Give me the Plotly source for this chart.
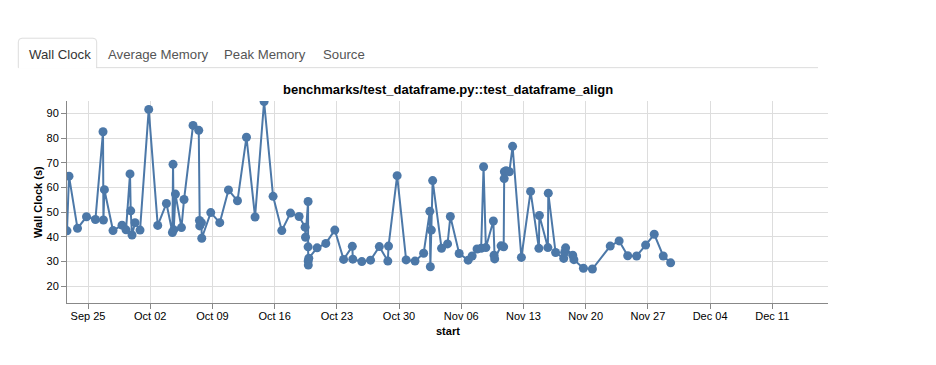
import plotly.graph_objects as go

# ---- data ----
start = [
    "2022-09-22 15:16", "2022-09-22 20:40", "2022-09-23 19:38", "2022-09-24 19:57",
    "2022-09-25 20:00", "2022-09-26 16:32", "2022-09-26 17:37", "2022-09-26 20:18",
    "2022-09-27 19:32", "2022-09-28 19:52", "2022-09-29 06:40", "2022-09-29 17:28",
    "2022-09-29 19:22", "2022-09-29 22:52", "2022-09-30 06:59", "2022-09-30 20:30",
    "2022-10-01 20:00", "2022-10-02 20:19", "2022-10-03 19:49", "2022-10-04 12:01",
    "2022-10-04 13:39", "2022-10-04 15:33", "2022-10-04 20:08", "2022-10-05 12:22",
    "2022-10-05 19:22", "2022-10-06 19:41", "2022-10-07 11:05", "2022-10-07 12:59",
    "2022-10-07 13:48", "2022-10-07 18:23", "2022-10-07 19:12", "2022-10-08 19:31",
    "2022-10-09 19:49", "2022-10-10 19:20", "2022-10-11 19:39", "2022-10-12 19:58",
    "2022-10-13 19:12", "2022-10-14 19:31", "2022-10-15 19:49", "2022-10-16 19:20",
    "2022-10-17 18:50", "2022-10-18 18:04", "2022-10-19 10:18", "2022-10-19 11:23",
    "2022-10-19 18:23", "2022-10-19 18:25", "2022-10-19 18:40", "2022-10-19 18:56",
    "2022-10-19 20:17", "2022-10-20 18:43", "2022-10-21 18:13", "2022-10-22 18:32",
    "2022-10-23 18:19", "2022-10-24 17:48", "2022-10-24 19:10", "2022-10-25 19:29",
    "2022-10-26 18:59", "2022-10-27 18:46", "2022-10-28 17:44", "2022-10-28 19:38",
    "2022-10-29 18:52", "2022-10-30 19:10", "2022-10-31 19:12", "2022-11-01 18:27",
    "2022-11-02 11:12", "2022-11-02 12:33", "2022-11-02 15:16", "2022-11-02 18:46",
    "2022-11-03 18:49", "2022-11-04 11:01", "2022-11-04 18:35", "2022-11-05 18:22",
    "2022-11-06 18:40", "2022-11-07 05:28", "2022-11-07 18:43", "2022-11-08 05:48",
    "2022-11-08 12:17", "2022-11-08 18:30", "2022-11-09 14:45", "2022-11-09 16:39",
    "2022-11-09 18:17", "2022-11-10 11:34", "2022-11-10 18:36", "2022-11-10 19:58",
    "2022-11-10 20:30", "2022-11-11 01:05", "2022-11-11 10:00", "2022-11-11 18:39",
    "2022-11-12 18:24", "2022-11-13 19:16", "2022-11-14 17:41", "2022-11-14 19:02",
    "2022-11-15 18:00", "2022-11-15 19:05", "2022-11-16 14:48", "2022-11-17 12:42",
    "2022-11-17 15:08", "2022-11-17 17:50", "2022-11-18 13:02", "2022-11-18 16:16",
    "2022-11-19 17:56", "2022-11-20 18:14", "2022-11-22 18:20", "2022-11-23 18:23",
    "2022-11-24 17:37", "2022-11-25 17:40", "2022-11-26 17:58", "2022-11-27 17:12",
    "2022-11-28 17:31", "2022-11-29 13:30",
]
wall_clock = [
    42.4, 64.6, 43.4, 48.1,
    47.0, 82.6, 46.8, 59.1,
    42.5, 44.7, 42.8, 65.5,
    50.5, 40.7, 45.7, 42.7,
    91.7, 44.6, 53.5, 41.7,
    69.4, 42.8, 57.3, 43.7,
    55.1, 85.2, 83.2, 46.6,
    44.4, 45.7, 39.4, 49.8,
    45.7, 59.0, 54.6, 80.4,
    48.0, 94.9, 56.4, 42.5,
    49.6, 48.2, 43.9, 39.8,
    54.3, 35.9, 30.2, 28.5,
    31.3, 35.5, 37.3, 42.7,
    30.8, 36.1, 30.9, 29.9,
    30.5, 36.0, 30.1, 36.2,
    64.8, 30.6, 30.1, 33.3,
    50.3, 27.8, 42.7, 62.8,
    35.3, 37.1, 48.2, 33.2,
    30.5, 32.2, 35.0, 35.3,
    68.4, 35.6, 46.4, 32.5,
    31.0, 36.3, 35.9, 63.6,
    66.4, 66.8, 66.4, 76.7,
    31.6, 58.4, 35.3, 48.6,
    35.6, 57.7, 33.6, 31.2,
    33.6, 35.5, 32.5, 30.7,
    27.2, 26.9, 36.2, 38.3,
    32.3, 32.2, 36.6, 41.0,
    32.2, 29.4,
]
x_range = ["2022-09-22 15:16", "2022-12-17 06:30"]
y_range = [13.1, 95.1]
y_ticks = [20, 30, 40, 50, 60, 70, 80, 90]
tabs = ["Wall Clock", "Average Memory", "Peak Memory", "Source"]
title_text = "benchmarks/test_dataframe.py::test_dataframe_align"
x_title = "start"
y_title = "Wall Clock (s)"

# ---- layout geometry (page pixels; the figure sits at the 8px body margin) ----
W, H = 936, 365
OFF = 8
FW, FH = W - 2 * OFF, H - 2 * OFF
PL, PR, PT, PB = 67, 828, 101, 302.7


def fx(px):
    return (px - PL) / (PR - PL)


def fy(py):
    return (PB - py) / (PB - PT)


FONT = "Liberation Sans, Arial, Helvetica, sans-serif"
BLUE = "#4c78a8"

fig = go.Figure()
fig.add_trace(go.Scatter(
    x=start, y=wall_clock, mode="lines+markers",
    line=dict(color=BLUE, width=2),
    marker=dict(color=BLUE, size=9, line=dict(width=0)),
    showlegend=False, cliponaxis=True,
))

shapes = []
annotations = []

# tabs
shapes.append(dict(type="line", xref="paper", yref="paper",
                   x0=fx(18.3), x1=fx(818), y0=fy(67.7), y1=fy(67.7),
                   line=dict(color="#dddddd", width=1), layer="above"))
shapes.append(dict(type="path", xref="paper", yref="paper",
                   path=(f"M {fx(18.3)} {fy(67.7)} L {fx(18.3)} {fy(42)} "
                         f"Q {fx(18.3)} {fy(38.3)} {fx(22)} {fy(38.3)} "
                         f"L {fx(93)} {fy(38.3)} Q {fx(96.7)} {fy(38.3)} {fx(96.7)} {fy(42)} "
                         f"L {fx(96.7)} {fy(67.7)}"),
                   line=dict(color="#dddddd", width=1), layer="above"))
shapes.append(dict(type="line", xref="paper", yref="paper",
                   x0=fx(19), x1=fx(96), y0=fy(67.7), y1=fy(67.7),
                   line=dict(color="white", width=2), layer="above"))

tab_x = [27, 106, 222, 321]
tab_colors = ["#333333", "#555555", "#555555", "#555555"]
for t, px, c in zip(tabs, tab_x, tab_colors):
    annotations.append(dict(text=t, xref="paper", yref="paper", x=fx(px), y=fy(54.5),
                            xanchor="left", yanchor="middle", showarrow=False,
                            font=dict(family=FONT, size=13.2, color=c)))

annotations.append(dict(text=f"<b>{title_text}</b>", xref="paper", yref="paper",
                        x=0.5, y=fy(90), xanchor="center", yanchor="middle",
                        showarrow=False, font=dict(family=FONT, size=13, color="#000")))
annotations.append(dict(text=f"<b>{x_title}</b>", xref="paper", yref="paper",
                        x=0.5, y=fy(331), xanchor="center", yanchor="middle",
                        showarrow=False, font=dict(family=FONT, size=11, color="#000")))
annotations.append(dict(text=f"<b>{y_title}</b>", xref="paper", yref="paper",
                        x=fx(38), y=0.5, xanchor="center", yanchor="middle", textangle=-90,
                        showarrow=False, font=dict(family=FONT, size=11, color="#000")))

fig.update_layout(
    width=FW, height=FH,
    margin=dict(l=PL - OFF, r=FW - (PR - OFF), t=PT - OFF, b=FH - (PB - OFF), pad=0),
    paper_bgcolor="white", plot_bgcolor="white",
    font=dict(family=FONT, size=11, color="#000"),
    shapes=shapes, annotations=annotations,
    xaxis=dict(
        type="date", range=x_range,
        tick0="2022-09-25", dtick=7 * 24 * 3600 * 1000, tickformat="%b %d",
        showgrid=True, gridcolor="#dddddd", gridwidth=1,
        showline=True, linecolor="#888888", linewidth=1,
        ticks="outside", ticklen=5, tickcolor="#888888",
        tickfont=dict(family=FONT, size=11, color="#000"),
        ticklabelstandoff=-2,
        zeroline=False, fixedrange=True,
    ),
    yaxis=dict(
        range=y_range, tickvals=y_ticks,
        showgrid=True, gridcolor="#dddddd", gridwidth=1,
        showline=True, linecolor="#888888", linewidth=1,
        ticks="outside", ticklen=5, tickcolor="#888888",
        tickfont=dict(family=FONT, size=11, color="#000"),
        zeroline=False, fixedrange=True,
    ),
)

fig.write_html("out.html")
